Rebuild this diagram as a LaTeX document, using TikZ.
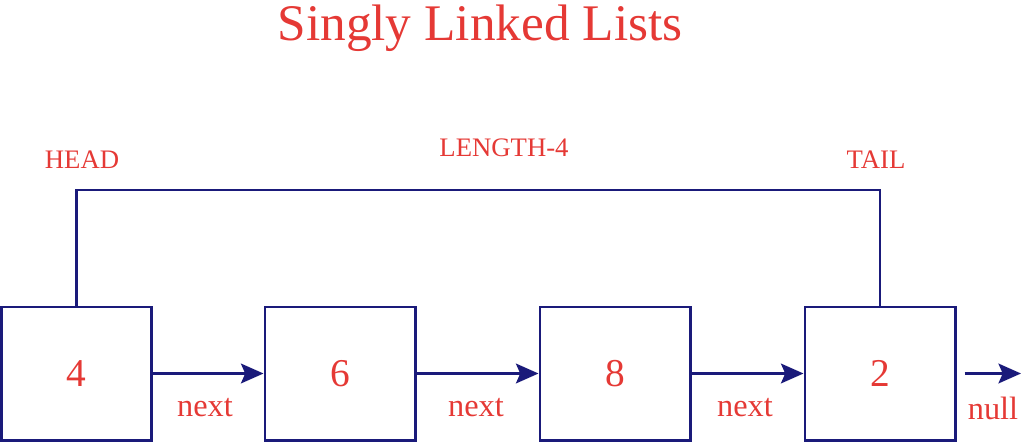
\documentclass[tikz,border=0pt]{standalone}
\usepackage{fontspec}
\setmainfont{Liberation Serif}
\usetikzlibrary{arrows.meta}
\definecolor{listred}{RGB}{229,57,53}
\definecolor{listblue}{RGB}{26,26,122}
\tikzset{
  cell/.style={draw=listblue, line width=2.1pt, minimum width=3.75cm, minimum height=3.325cm, inner sep=0pt, text=listred, font=\fontsize{28}{32}\selectfont},
  link/.style={draw=listblue, line width=2.1pt, -{Stealth[length=16pt,width=14pt,inset=3pt]}},
  wire/.style={draw=listblue, line width=2.1pt},
  lbl/.style={text=listred, font=\fontsize{23}{26}\selectfont},
  tag/.style={text=listred, font=\fontsize{19}{22}\selectfont}
}
\begin{document}
\begin{tikzpicture}[x=0.025cm, y=-0.025cm]
\useasboundingbox (0,0) rectangle (1024,442);
\node[text=listred, font=\fontsize{36.5}{42}\selectfont] (title) at (480,28) {Singly Linked Lists};
\node[cell] (b1) at (76.5,373.5) {4};
\node[cell] (b2) at (340,373.5) {6};
\node[cell] (b3) at (615,373.5) {8};
\node[cell] (b4) at (880,373.5) {2};
\node[tag] (head) at (82,160) {HEAD};
\node[tag] (len) at (504,148) {LENGTH-4};
\node[tag] (tail) at (876,160) {TAIL};
\node[lbl] (n1) at (205,408) {next};
\node[lbl] (n2) at (476,408) {next};
\node[lbl] (n3) at (745,408) {next};
\node[lbl] (nul) at (993,408) {null};
\coordinate (top) at (0,190);
\coordinate (nullend) at (1021,373.5);
\draw[wire] (b1.north) |- (b4.north |- top) -- (b4.north);
\draw[link] (b1.east) -- (b2.west);
\draw[link] (b2.east) -- (b3.west);
\draw[link] (b3.east) -- (b4.west);
\draw[link, shorten <=0.2cm] (b4.east) -- (nullend);
\end{tikzpicture}
\end{document}
